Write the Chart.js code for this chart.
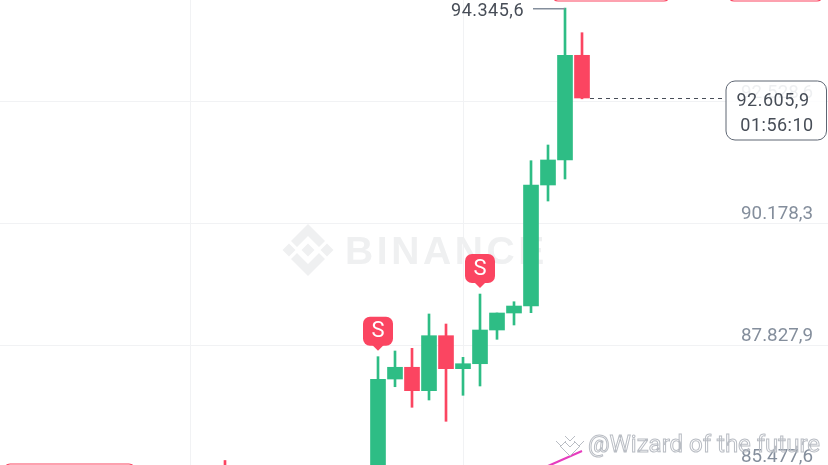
<!DOCTYPE html>
<html>
<head>
<meta charset="utf-8">
<style>
  html, body { margin: 0; padding: 0; background: #fff; width: 828px; height: 465px; overflow: hidden; }
  canvas { display: block; }
</style>
<script src="https://cdn.jsdelivr.net/npm/chart.js@4/dist/chart.umd.min.js"></script>
</head>
<body>
<canvas id="chart" width="828" height="500"></canvas>
<script>
// candle slots on the time axis, grid columns fall every 16 slots
const slots  = [18, 27, 28, 29, 30, 31, 32, 33, 34, 35, 36, 37, 38, 39];
const opens  = [85480, 85217, 87170, 87397, 86944, 88008, 87370, 87466, 88118, 88447, 88582, 90923, 91407, 93432];
const closes = [85350, 87164, 87397, 86944, 88008, 87370, 87466, 88118, 88447, 88582, 90923, 91407, 93432, 92605.9];
const highs  = [85594, 87602, 87712, 87764, 88428, 88234, 87590, 88814, 88447, 88665, 91393, 91697, 94345.6, 93869];
const lows   = [85300, 85023, 87021, 86623, 86764, 86352, 86855, 87035, 87938, 88215, 88453, 90613, 91039, 92590];

// moving average, only its tail is on screen
const maSlots  = [37, 38, 39];
const maValues = [85487, 85632, 85777];

const gridSlots  = [16, 32];
const gridPrices = [85477.6, 87827.9, 90178.3, 92528.6];
const tickLabels = ["85.477,6", "87.827,9", "90.178,3", "92.528,6"];

const sellMarkSlots = [27, 33];
const highSlot = 38;
const highPrice = 94345.6;
const highLabel = "94.345,6";
const lastPrice = 92605.9;
const lastSlot = 39;
const lastLabel = "92.605,9";
const countdown = "01:56:10";

const UP = "#2ebd85";
const DOWN = "#fb4561";
const GRID = "#f1f2f4";
const INK = "#474d57";
const FONT = "Roboto, sans-serif";

const isUp = slots.map((s, i) => closes[i] >= opens[i]);
const candleColors = slots.map((s, i) => (s === 18 ? DOWN : isUp[i] ? UP : DOWN));

function diamond(ctx, x, y, r) {
  ctx.beginPath();
  ctx.moveTo(x, y - r);
  ctx.lineTo(x + r, y);
  ctx.lineTo(x, y + r);
  ctx.lineTo(x - r, y);
  ctx.closePath();
  ctx.fill();
}

function chevron(ctx, x, y, r, w, dir) {
  ctx.beginPath();
  ctx.moveTo(x, y);
  ctx.lineTo(x + r, y + dir * r);
  ctx.lineTo(x + r - w, y + dir * (r + w));
  ctx.lineTo(x, y + dir * 2 * w);
  ctx.lineTo(x - r + w, y + dir * (r + w));
  ctx.lineTo(x - r, y + dir * r);
  ctx.closePath();
  ctx.fill();
}

/** Binance watermark, sits under the candles. */
const watermarkPlugin = {
  id: "watermark",
  beforeDatasetsDraw(chart) {
    const { ctx } = chart;
    ctx.save();
    ctx.fillStyle = "#eff0f1";
    diamond(ctx, 308, 250, 6.5);
    diamond(ctx, 289, 250, 6.5);
    diamond(ctx, 327, 250, 6.5);
    chevron(ctx, 308, 224, 17, 6, 1);
    chevron(ctx, 308, 276, 17, 6, -1);
    ctx.font = `bold 39px "Liberation Sans", sans-serif`;
    ctx.letterSpacing = "3.6px";
    ctx.textBaseline = "alphabetic";
    ctx.textAlign = "left";
    ctx.fillText("BINANCE", 345, 264);
    ctx.restore();
  },
};

/** Everything drawn on top of the candles: sell flags, high label, last price tag, position boxes. */
const overlayPlugin = {
  id: "overlay",
  afterDraw(chart) {
    const { ctx, scales } = chart;
    const x = scales.x;
    const y = scales.y;
    ctx.save();

    // sell flags hang over the wick of their candle
    sellMarkSlots.forEach((slot) => {
      const cx = x.getPixelForValue(slot);
      const tip = y.getPixelForValue(highs[slots.indexOf(slot)]) - 6;
      ctx.fillStyle = DOWN;
      ctx.beginPath();
      ctx.roundRect(cx - 15, tip - 34, 30, 29, 7);
      ctx.fill();
      ctx.beginPath();
      ctx.moveTo(cx - 6, tip - 6);
      ctx.lineTo(cx + 6, tip - 6);
      ctx.lineTo(cx, tip);
      ctx.closePath();
      ctx.fill();
      ctx.fillStyle = "#fff";
      ctx.font = `22px ${FONT}`;
      ctx.textAlign = "center";
      ctx.textBaseline = "middle";
      ctx.fillText("S", cx, tip - 19);
    });

    // highest price
    const hx = x.getPixelForValue(highSlot);
    const hy = Math.round(y.getPixelForValue(highPrice));
    ctx.fillStyle = "#848e9c";
    ctx.fillRect(hx - 32, hy, 32, 1.5);
    ctx.fillStyle = INK;
    ctx.font = `18px ${FONT}`;
    ctx.letterSpacing = "0.5px";
    ctx.textAlign = "right";
    ctx.textBaseline = "middle";
    ctx.fillText(highLabel, hx - 41, hy + 3);

    // last price line and tag
    const lx = x.getPixelForValue(lastSlot) + 8;
    const ly = Math.round(y.getPixelForValue(lastPrice)) + 0.5;
    ctx.strokeStyle = INK;
    ctx.lineWidth = 1;
    ctx.setLineDash([4, 4]);
    ctx.beginPath();
    ctx.moveTo(lx, ly);
    ctx.lineTo(725, ly);
    ctx.stroke();
    ctx.setLineDash([]);
    ctx.fillStyle = "rgba(255,255,255,0.86)";
    ctx.strokeStyle = "#5e6673";
    ctx.beginPath();
    ctx.roundRect(726, 81, 100.5, 59, 9);
    ctx.fill();
    ctx.stroke();
    ctx.fillStyle = INK;
    ctx.textAlign = "center";
    ctx.fillText(lastLabel, 773, 101);
    ctx.fillText(countdown, 777, 126);
    ctx.letterSpacing = "0px";

    // position boxes cut off by the edges of the shot
    ctx.strokeStyle = DOWN;
    ctx.lineWidth = 1.2;
    [[552, 118], [728, 95]].forEach(([bx, bw]) => {
      ctx.beginPath();
      ctx.roundRect(bx, -20, bw, 21, 6);
      ctx.stroke();
    });
    ctx.beginPath();
    ctx.roundRect(4, 464, 131, 30, 6);
    ctx.stroke();

    // author stamp
    ctx.strokeStyle = "#b9bdc4";
    ctx.lineWidth = 1;
    [[570, 436, 5], [561, 441, 5], [579, 441, 5], [570, 442, 5], [570, 446, 10]].forEach(([cx, cy, r]) => {
      ctx.beginPath();
      ctx.moveTo(cx - r, cy);
      ctx.lineTo(cx, cy + r);
      ctx.lineTo(cx + r, cy);
      ctx.stroke();
    });
    ctx.font = `24px ${FONT}`;
    ctx.textAlign = "left";
    ctx.textBaseline = "alphabetic";
    ctx.strokeText("@Wizard of the future", 588, 452);
    ctx.restore();
  },
};

new Chart(document.getElementById("chart"), {
  data: {
    datasets: [
      {
        type: "line",
        data: maSlots.map((s, i) => ({ x: s, y: maValues[i] })),
        borderColor: "#e63cbe",
        borderWidth: 2,
        pointRadius: 0,
        order: 3,
      },
      {
        type: "bar",
        data: slots.map((s, i) => ({ x: s, y: [lows[i], highs[i]] })),
        backgroundColor: candleColors,
        barThickness: 2,
        grouped: false,
        order: 2,
      },
      {
        type: "bar",
        data: slots.map((s, i) => ({ x: s, y: [opens[i], closes[i]] })),
        backgroundColor: candleColors,
        barThickness: 15,
        grouped: false,
        order: 1,
      },
    ],
  },
  plugins: [watermarkPlugin, overlayPlugin],
  options: {
    responsive: false,
    animation: false,
    layout: { padding: 0 },
    plugins: {
      legend: { display: false },
      tooltip: { enabled: false },
    },
    scales: {
      x: {
        type: "linear",
        offset: false,
        min: 4.765,
        max: 53.47,
        border: { display: false },
        grid: { offset: false, color: GRID, lineWidth: 1, drawTicks: false },
        ticks: { display: false },
        afterBuildTicks(axis) {
          axis.ticks = gridSlots.map((value) => ({ value }));
        },
      },
      y: {
        type: "linear",
        position: "right",
        min: 84829.6,
        max: 94501.7,
        border: { display: false },
        grid: { color: GRID, lineWidth: 1, drawTicks: false },
        ticks: {
          mirror: true,
          padding: -15,
          labelOffset: -9,
          color: "#848e9c",
          font: { family: FONT, size: 18.8 },
          autoSkip: false,
          callback: (value) => tickLabels[gridPrices.indexOf(value)],
        },
        afterBuildTicks(axis) {
          axis.ticks = gridPrices.map((value) => ({ value }));
        },
        afterFit(axis) {
          axis.width = 0;
          axis.paddingTop = 0;
          axis.paddingBottom = 0;
        },
      },
    },
  },
});
</script>
</body>
</html>
